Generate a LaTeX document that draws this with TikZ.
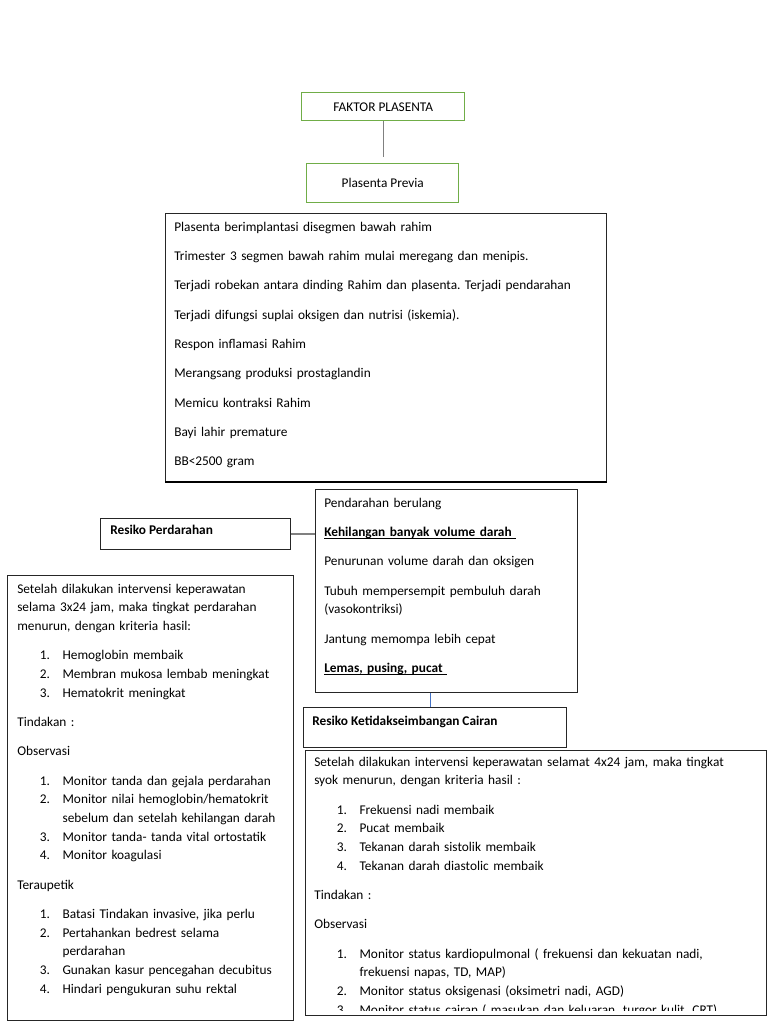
\documentclass[tikz,border=0pt]{standalone}
\usepackage{fontspec}
\setmainfont{Carlito}
\usetikzlibrary{positioning}
\definecolor{boxGreen}{RGB}{112,173,71}
\definecolor{linkGray}{RGB}{128,128,128}
\definecolor{linkBlue}{RGB}{68,114,196}
\frenchspacing
\newcommand{\bodyfont}{\fontsize{10}{14}\selectfont\hyphenpenalty=10000\relax}
\newcommand{\gap}{\par\vspace{8pt}}
\newcommand{\numitem}[2]{\par\hangindent=34pt\hangafter=1\noindent\makebox[34pt][l]{\hspace*{17pt}#1}#2}
\newcommand{\lineunder}[1]{\leavevmode\setbox0\hbox{#1}\rlap{\rule[-1.5pt]{\wd0}{0.6pt}}\box0}

\begin{document}
\begin{tikzpicture}[x=0.75pt,y=-0.75pt,
  greenbox/.style={draw=boxGreen,line width=1.1pt,inner sep=0pt,anchor=north west,font=\bodyfont},
  plainbox/.style={draw=black!85,line width=0.8pt,inner sep=0pt,anchor=north west},
  boxtext/.style={anchor=base west,inner sep=0pt,align=left,font=\bodyfont},
  link/.style={draw=linkGray,line width=1pt}]
\fill[white] (0,0) rectangle (768,1024);
\useasboundingbox (0,0) rectangle (768,1024);

% top chain
\node[greenbox,minimum width=163*0.75pt,minimum height=28*0.75pt] (faktor) at (301,92) {FAKTOR PLASENTA};
\node[greenbox,minimum width=152*0.75pt,minimum height=39*0.75pt] (previa) at (306,163) {Plasenta Previa};
\draw[link] (faktor.south) -- ([yshift=4.5pt]faktor.south |- previa.north);

% mechanism box
\node[plainbox,minimum width=441*0.75pt,minimum height=268*0.75pt] (proses) at (165,213) {};
\draw[line width=2pt] (proses.south west) -- (proses.south east);
\node[boxtext,text width=430*0.75pt] (prosestext) at (174,231) {%
Plasenta berimplantasi disegmen bawah rahim\gap
Trimester 3 segmen bawah rahim mulai meregang dan menipis.\gap
Terjadi robekan antara dinding Rahim dan plasenta. Terjadi pendarahan\gap
Terjadi difungsi suplai oksigen dan nutrisi (iskemia).\gap
Respon inflamasi Rahim\gap
Merangsang produksi prostaglandin\gap
Memicu kontraksi Rahim\gap
Bayi lahir premature\gap
BB<2500 gram};

% bleeding box
\node[plainbox,minimum width=262*0.75pt,minimum height=203*0.75pt] (gejala) at (315,489) {};
\node[boxtext,text width=255*0.75pt] (gejalatext) at (324,507) {%
Pendarahan berulang\gap
\lineunder{\bfseries Kehilangan banyak volume darah\ }\gap
Penurunan volume darah dan oksigen\gap
Tubuh mempersempit pembuluh darah\newline (vasokontriksi)\gap
Jantung memompa lebih cepat\gap
\lineunder{\bfseries Lemas, pusing, pucat\ }};

% diagnoses
\node[plainbox,minimum width=190*0.75pt,minimum height=31*0.75pt] (resikoA) at (100,518) {};
\node[boxtext,font=\bodyfont\bfseries] (resikoAtext) at (110,534) {Resiko Perdarahan};
\draw[link] (resikoA.east) -- (resikoA.east -| gejala.west);

\node[plainbox,minimum width=263*0.75pt,minimum height=40*0.75pt] (resikoB) at (303,707) {};
\node[boxtext,font=\bodyfont\bfseries] (resikoBtext) at (312,725) {Resiko Ketidakseimbangan Cairan};
\draw[draw=linkBlue,line width=0.9pt] ([xshift=-3.4pt]resikoB.north) -- ([xshift=-3.4pt]resikoB.north |- gejala.south);

% interventions, left
\node[plainbox,minimum width=286*0.75pt,minimum height=445*0.75pt] (intervensiA) at (7,575) {};
\node[boxtext,text width=280*0.75pt] (intervensiAtext) at (17,593) {%
Setelah dilakukan intervensi keperawatan\newline selama 3x24 jam, maka tingkat perdarahan\newline menurun, dengan kriteria hasil:\gap
\numitem{1.}{Hemoglobin membaik}
\numitem{2.}{Membran mukosa lembab meningkat}
\numitem{3.}{Hematokrit meningkat}\gap
Tindakan :\gap
Observasi\gap
\numitem{1.}{Monitor tanda dan gejala perdarahan}
\numitem{2.}{Monitor nilai hemoglobin/hematokrit\newline sebelum dan setelah kehilangan darah}
\numitem{3.}{Monitor tanda- tanda vital ortostatik}
\numitem{4.}{Monitor koagulasi}\gap
Teraupetik\gap
\numitem{1.}{Batasi Tindakan invasive, jika perlu}
\numitem{2.}{Pertahankan bedrest selama\newline perdarahan}
\numitem{3.}{Gunakan kasur pencegahan decubitus}
\numitem{4.}{Hindari pengukuran suhu rektal}};

% interventions, right (text cut at the box bottom)
\node[plainbox,minimum width=461*0.75pt,minimum height=265*0.75pt] (intervensiB) at (305,750) {};
\begin{scope}
\clip (305,750) rectangle (766,1010);
\node[boxtext,text width=452*0.75pt] (intervensiBtext) at (314,766) {%
Setelah dilakukan intervensi keperawatan selamat 4x24 jam, maka tingkat\newline syok menurun, dengan kriteria hasil :\gap
\numitem{1.}{Frekuensi nadi membaik}
\numitem{2.}{Pucat membaik}
\numitem{3.}{Tekanan darah sistolik membaik}
\numitem{4.}{Tekanan darah diastolic membaik}\gap
Tindakan :\gap
Observasi\gap
\numitem{1.}{Monitor status kardiopulmonal ( frekuensi dan kekuatan nadi,\newline frekuensi napas, TD, MAP)}
\numitem{2.}{Monitor status oksigenasi (oksimetri nadi, AGD)}
\numitem{3.}{Monitor status cairan ( masukan dan keluaran, turgor kulit, CRT)}};
\end{scope}
\end{tikzpicture}
\end{document}
